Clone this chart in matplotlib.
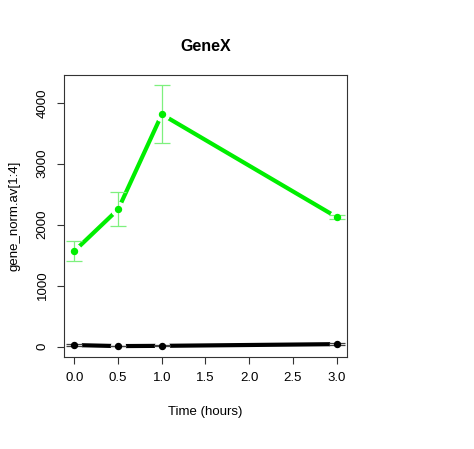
import numpy as np
import matplotlib
matplotlib.use('Agg')
import matplotlib.pyplot as plt

plt.rcParams['font.family'] = ['Liberation Sans', 'DejaVu Sans']

times = [0.0, 0.5, 1.0, 3.0]
green_mean = [1569, 2252, 3810, 2126]
green_lo = [1405, 1974, 3340, 2089]
green_hi = [1733, 2531, 4285, 2154]
black_mean = [25, 8, 12, 40]
black_lo = [15, 2, 5, 20]
black_hi = [35, 14, 19, 60]
xticks = [0.0, 0.5, 1.0, 1.5, 2.0, 2.5, 3.0]
yticks = [0, 1000, 2000, 3000, 4000]

fig = plt.figure(figsize=(4.74, 4.49), dpi=100)
ax = fig.add_axes([64/474, 1-357/449, (347-64)/474, (357-75)/449])

def draw_series(mean, lo, hi, col, ecol):
	# R type="b": line with gaps around points
	ax.plot(times, mean, color=col, lw=3, solid_capstyle='butt', zorder=1)
	ax.plot(times, mean, 'o', ms=10, mfc='white', mec='white', zorder=2)
	m = np.array(mean)
	yerr = [m - np.array(lo), np.array(hi) - m]
	ax.errorbar(times, mean, yerr=yerr, fmt='none', ecolor=ecol, elinewidth=0.9,
		capsize=6, capthick=0.9, zorder=3)
	ax.plot(times, mean, 'o', ms=4.3, color=col, zorder=4)

draw_series(green_mean, green_lo, green_hi, '#00ee00', '#7ef07e')
draw_series(black_mean, black_lo, black_hi, 'black', '#404040')

ax.set_xlim(-0.12, 3.12)
ax.set_ylim(-171, 4456)
ax.set_xticks(xticks)
ax.set_xticklabels(['%.1f' % t for t in xticks])
ax.set_yticks(yticks)
ax.set_yticklabels([str(v) for v in yticks], rotation=90, va='center')
ax.tick_params(labelsize=9.5, length=5, width=0.8, pad=6, color='#333333')
for s in ax.spines.values():
	s.set_linewidth(0.8)
	s.set_color('#333333')

ax.set_xlabel('Time (hours)', fontsize=9.5, labelpad=16)
ax.set_ylabel('gene_norm.av[1:4]', fontsize=9.5, labelpad=12)
ax.set_title('GeneX', fontsize=11.5, fontweight='bold', pad=17)

fig.savefig('out.png', dpi=100)
